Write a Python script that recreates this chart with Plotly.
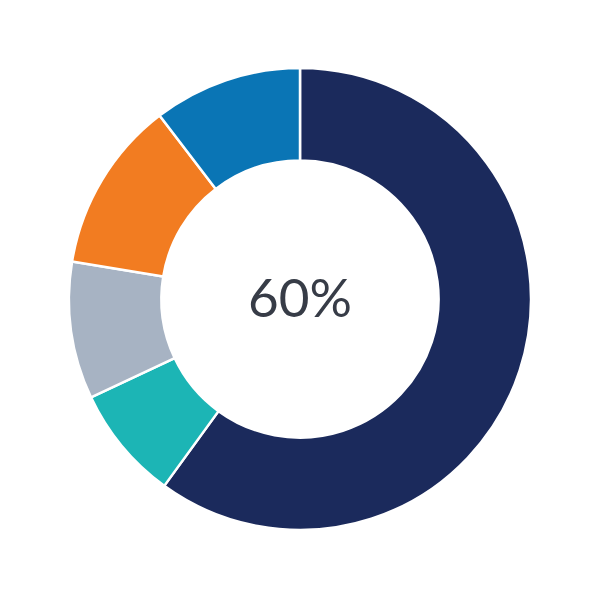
import plotly.graph_objects as go

labels = ["A", "B", "C", "D", "E"]
values = [60, 8, 9.6, 12, 10.4]
colors = ["#1b2a5c", "#1cb5b5", "#a7b3c3", "#f27c21", "#0a75b5"]
center_text = "60%"

fig = go.Figure(go.Pie(
    labels=labels, values=values, hole=0.6, sort=False, direction="clockwise",
    rotation=0, textinfo="none", hoverinfo="none",
    marker=dict(colors=colors, line=dict(color="white", width=2.5)),
))
fig.update_layout(
    width=600, height=599, showlegend=False,
    margin=dict(l=61, r=77, t=60, b=77),
    paper_bgcolor="white", plot_bgcolor="white",
    annotations=[dict(text=center_text, x=0.5, y=0.5, xref="paper", yref="paper", yshift=3,
                      showarrow=False, font=dict(family="Lato", size=53, color="#373c47"))],
)
fig.write_html("out.html")
